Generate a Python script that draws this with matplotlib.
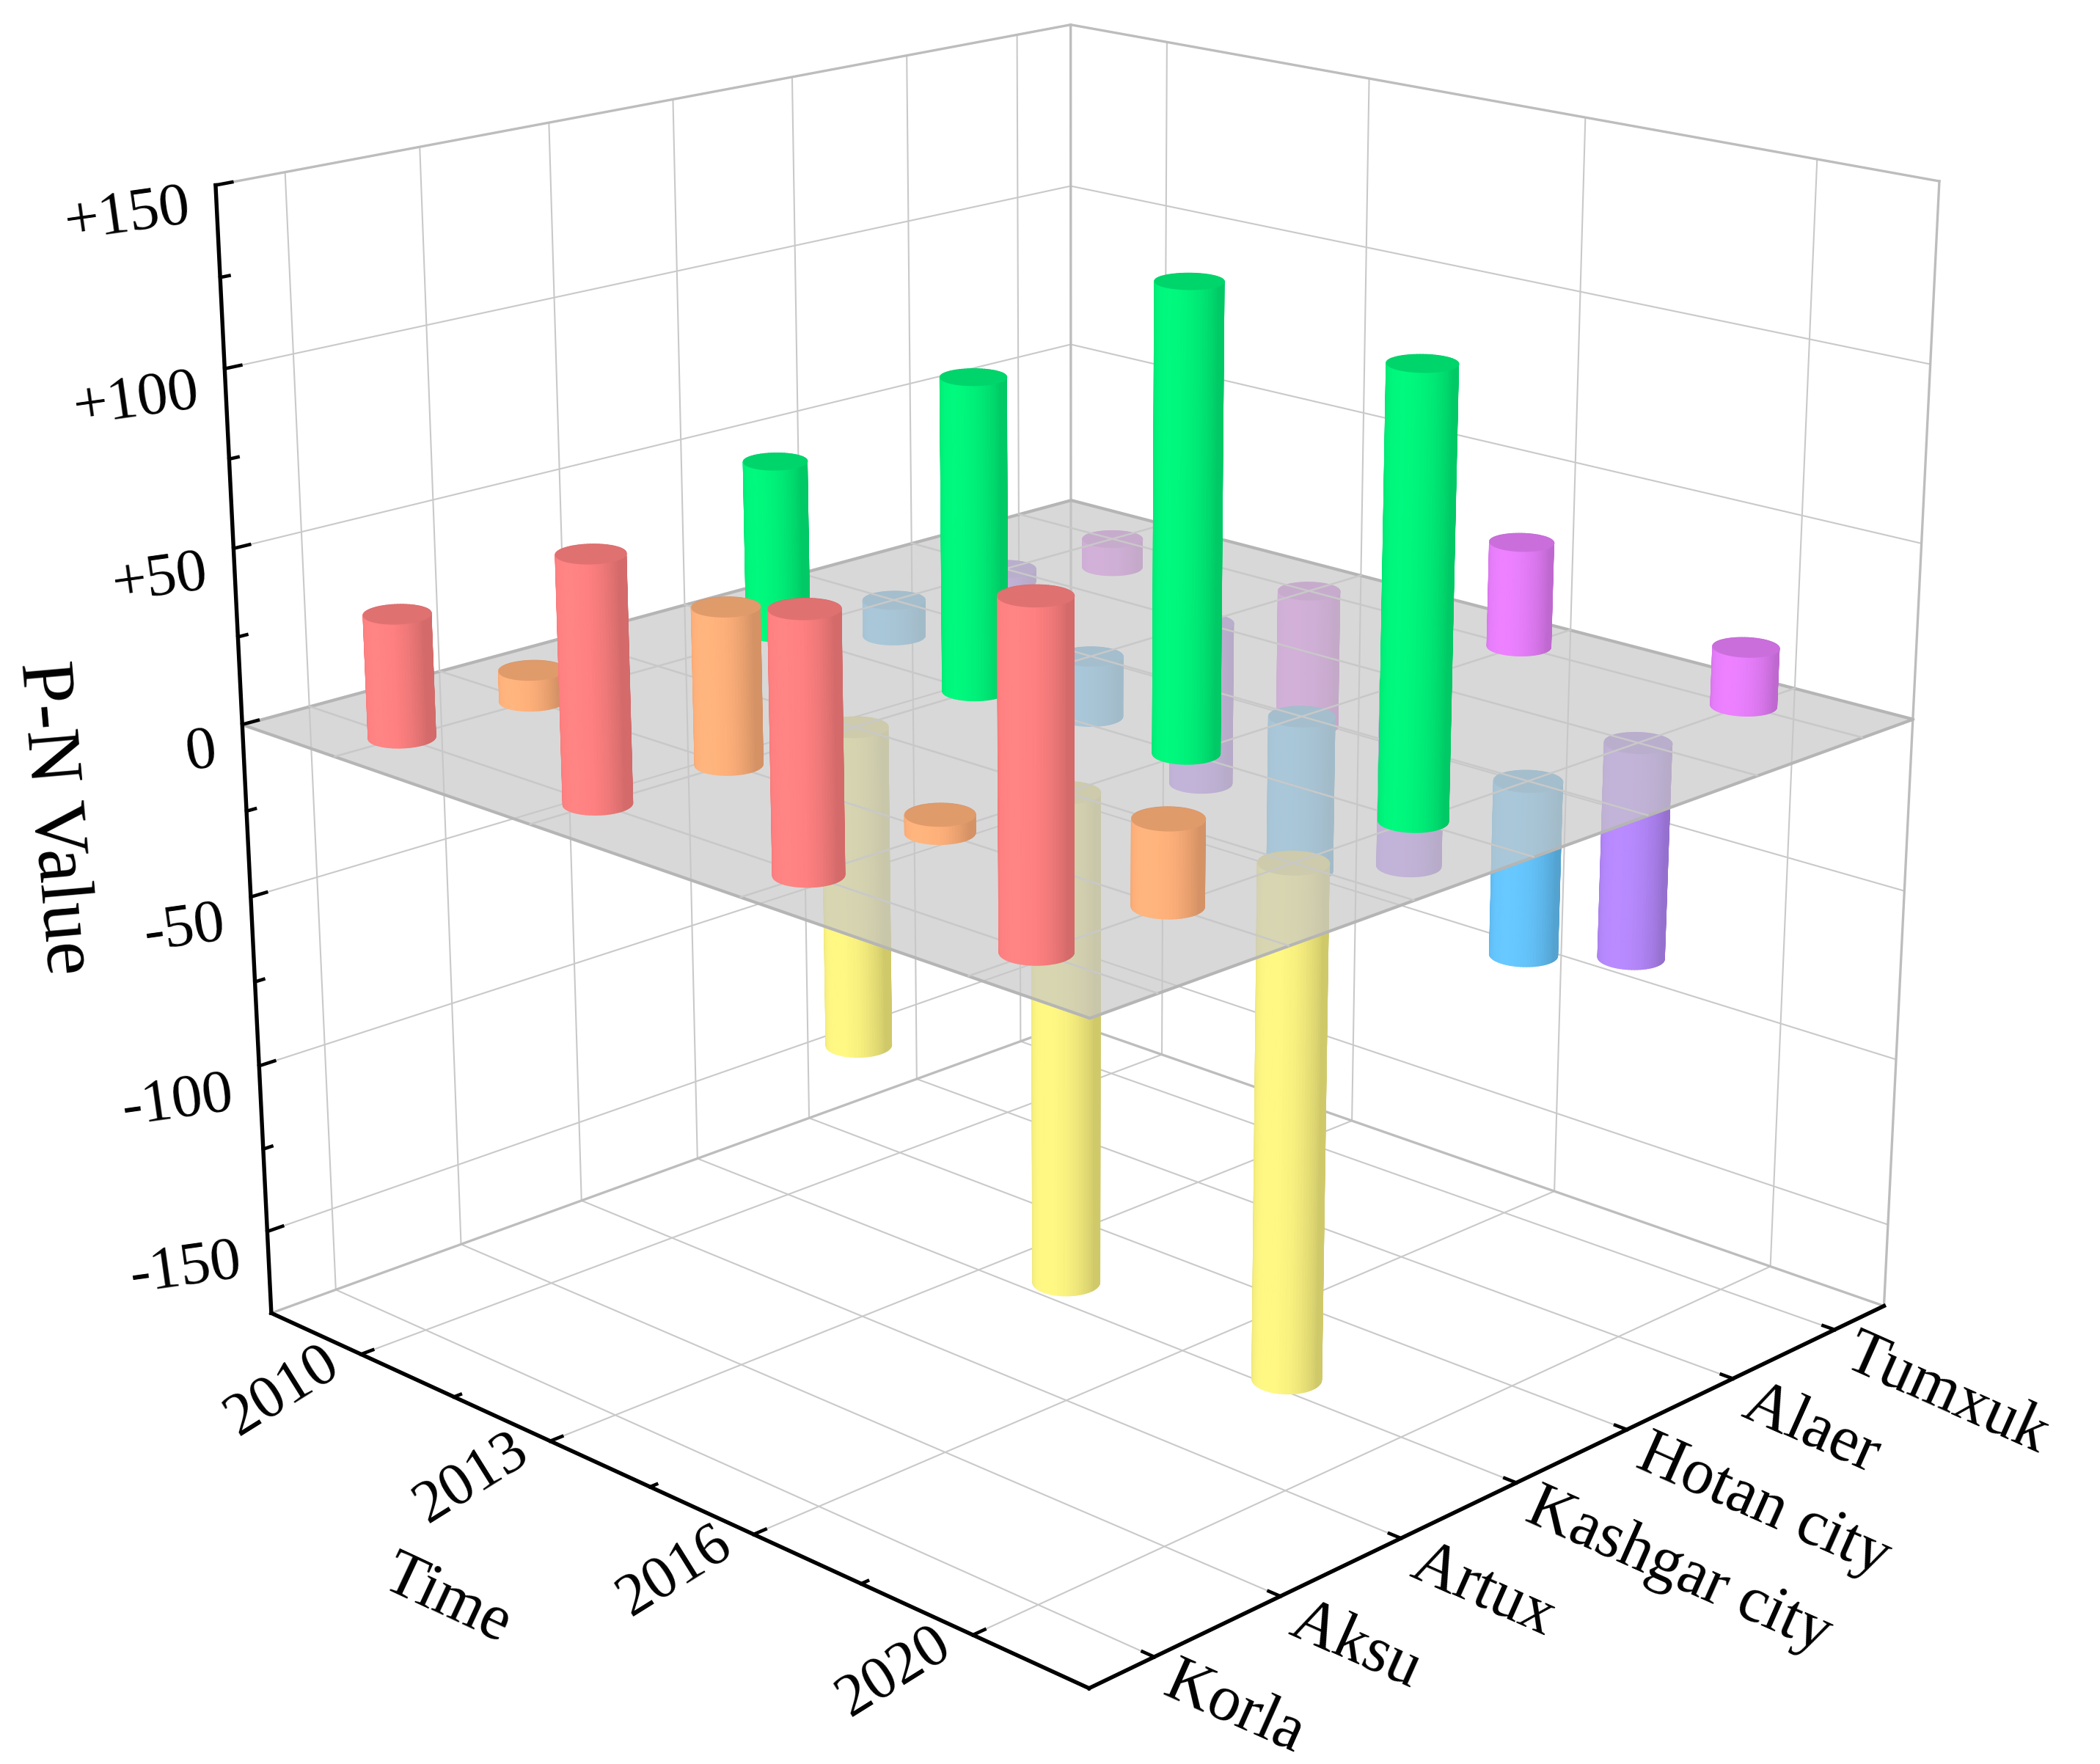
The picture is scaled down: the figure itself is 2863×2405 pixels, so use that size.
import numpy as np
import matplotlib
matplotlib.use("Agg")
import matplotlib.pyplot as plt
from matplotlib.colors import to_rgb
from mpl_toolkits.mplot3d.art3d import Poly3DCollection

plt.rcParams['font.family'] = ['Liberation Serif', 'DejaVu Serif']

# ---------------- data ----------------
years = ["2010", "2013", "2016", "2020"]
cities = ["Korla", "Aksu", "Artux", "Kashgar city", "Hotan city", "Alaer", "Tumxuk"]
korla = [35, 68, 70, 90]
aksu = [9, 44, 5, 23]
artux = [0, -93, -140, -143]
kashgar = [51, 90, 130, 122]
hotan = [-11, -18, -45, -49]
alaer = [-4, -49, -55, -62]
tumxuk = [-9, -42, 31, 17]
city_colors = ["#FF8080", "#FFB07A", "#FAF280", "#00F27A", "#64C3FA", "#B487FA", "#E67DFA"]
z_ticks = [-150, -100, -50, 0, 50, 100, 150]
z_ticklabels = ["-150", "-100", "-50", "0", "+50", "+100", "+150"]
z_minor = [-125, -75, -25, 25, 75, 125]
z_min, z_max = -175, 150

values = np.array([korla, aksu, artux, kashgar, hotan, alaer, tumxuk], dtype=float)

# ---------------- figure ----------------
W, H, DPI = 2863, 2405, 300
fig = plt.figure(figsize=(W / DPI, H / DPI), dpi=DPI)
fig.patch.set_facecolor('white')
ax = fig.add_axes([0, 0, 1, 1], projection='3d', computed_zorder=False)
ax.set_axis_off()

nt, nc = len(years), len(cities)
X0, X1 = -0.5, nt - 0.5
Y0, Y1 = -0.5, nc - 0.5


def set_limits():
    ax.set_xlim(X0, X1)
    ax.set_ylim(Y0, Y1)
    ax.set_zlim(z_min, z_max)


set_limits()

# layout anchors: box corners -> where they sit in the reference image (px)
ref3d = np.array([[X0, Y0, z_max], [X0, Y1, z_max], [X1, Y1, z_max],
                  [X0, Y0, z_min], [X1, Y0, z_min], [X1, Y1, z_min],
                  [X0, Y0, 0], [X1, Y0, 0], [X1, Y1, 0], [X0, Y1, 0]])
ref2d = np.array([[292, 261], [1461, 33], [2639, 237],
                  [374, 1799], [1479, 2301], [2575, 1771],
                  [333, 994], [1479, 1391], [2611, 971], [1461, 685]], float)


def project(pts):
    pts = np.atleast_2d(pts)
    M = ax.get_proj()
    vec = np.vstack([pts.T, np.ones(len(pts))])
    w = M @ vec
    return w[0] / w[3], w[1] / w[3]


def set_view(p):
    ax.view_init(elev=p[0], azim=p[1])
    ax.set_proj_type('persp', focal_length=p[2])
    ax.set_box_aspect((1, 1, p[3]))


def fit_err(p):
    set_view(p)
    px, py = project(ref3d)
    n = len(px)
    A = np.zeros((2 * n, 3))
    b = np.concatenate([ref2d[:, 0], ref2d[:, 1]])
    A[:n, 0] = px
    A[:n, 1] = 1
    A[n:, 0] = -py
    A[n:, 2] = 1
    sol = np.linalg.lstsq(A, b, rcond=None)[0]
    r = A @ sol - b
    return float(r @ r), sol


p = np.array([18.0, -45.0, 0.5, 1.0])
steps = np.array([2.0, 2.0, 0.1, 0.05])
best, sol = fit_err(p)
for _ in range(200):
    improved = False
    for i in range(4):
        for d in (1, -1):
            q = p.copy()
            q[i] += d * steps[i]
            if q[2] < 0.12:
                continue
            e, s_ = fit_err(q)
            if e < best:
                best, p, sol, improved = e, q, s_, True
    if not improved:
        steps /= 2
        if steps[0] < 0.02:
            break
best, sol = fit_err(p)
S, TX, TY = sol


def to_img(x, y, z):
    pts = np.column_stack([np.atleast_1d(x), np.atleast_1d(y), np.atleast_1d(z)]).astype(float)
    px, py = project(pts)
    return S * px + TX, -S * py + TY


def fpos(u, v):
    return u / W, 1 - v / H


# ---------------- gridlines / box ----------------
GRID = '#c9c9c9'
EDGE = '#bdbdbd'
kw_g = dict(color=GRID, lw=0.5, zorder=0.5, clip_on=False, solid_capstyle='butt')
for j in range(nc):
    ax.plot([X0, X0], [j, j], [z_min, z_max], **kw_g)
    ax.plot([X0, X1], [j, j], [z_min, z_min], **kw_g)
for i in range(nt):
    ax.plot([i, i], [Y1, Y1], [z_min, z_max], **kw_g)
    ax.plot([i, i], [Y0, Y1], [z_min, z_min], **kw_g)
for zt in z_ticks:
    ax.plot([X0, X0], [Y0, Y1], [zt, zt], **kw_g)
    ax.plot([X0, X1], [Y1, Y1], [zt, zt], **kw_g)
kw_e = dict(color=EDGE, lw=0.8, zorder=0.6, clip_on=False)
ax.plot([X0, X0], [Y0, Y1], [z_max, z_max], **kw_e)
ax.plot([X0, X1], [Y1, Y1], [z_max, z_max], **kw_e)
ax.plot([X0, X0], [Y1, Y1], [z_min, z_max], **kw_e)
ax.plot([X1, X1], [Y1, Y1], [z_min, z_max], **kw_e)
ax.plot([X0, X0], [Y0, Y1], [z_min, z_min], **kw_e)
ax.plot([X0, X1], [Y1, Y1], [z_min, z_min], **kw_e)

# ---------------- bars (cylinders) ----------------
azr = np.deg2rad(p[1])
e_v = np.array([np.cos(azr), np.sin(azr)])
u_v = np.array([-np.sin(azr), np.cos(azr)])
la = np.deg2rad(-35)
Lh = np.cos(la) * e_v + np.sin(la) * u_v
NSEG = 72
th = np.linspace(0, 2 * np.pi, NSEG + 1)
thm = 0.5 * (th[:-1] + th[1:])
ndl = np.cos(thm) * Lh[0] + np.sin(thm) * Lh[1]
shade = 0.83 + 0.2 * np.clip(ndl, 0, 1)
RF = 0.028
rx, ry = RF * (X1 - X0), RF * (Y1 - Y0)


def depth(xc, yc):
    return (xc - X0) / (X1 - X0) * e_v[0] + (yc - Y0) / (Y1 - Y0) * e_v[1]


def add_bar(xc, yc, v, color, zo):
    base = np.array(to_rgb(color))
    xs = xc + rx * np.cos(th)
    ys = yc + ry * np.sin(th)
    quads = [[(xs[j], ys[j], 0), (xs[j + 1], ys[j + 1], 0),
              (xs[j + 1], ys[j + 1], v), (xs[j], ys[j], v)] for j in range(NSEG)]
    cols = np.clip(base[None, :] * shade[:, None], 0, 1)
    side = Poly3DCollection(quads, facecolors=cols, edgecolors=cols,
                            linewidths=0.4, zorder=zo, clip_on=False)
    ax.add_collection3d(side)
    ztop = max(v, 0)
    capc = np.clip(base * 0.88, 0, 1)
    cap = Poly3DCollection([[(xs[j], ys[j], ztop) for j in range(NSEG)]],
                           facecolors=[capc], edgecolors=[capc],
                           linewidths=0.4, zorder=zo + 0.0005, clip_on=False)
    ax.add_collection3d(cap)


bars = []
for ci in range(nc):
    for ti in range(nt):
        v = values[ci, ti]
        if v != 0:
            bars.append((depth(ti, ci), ti, ci, v))
bars.sort(key=lambda b: b[0])
for k, (dp, ti, ci, v) in enumerate(bars):
    zo = (1.0 if v < 0 else 3.0) + 0.001 * k
    add_bar(ti, ci, v, city_colors[ci], zo)

# ---------------- zero plane ----------------
plane = Poly3DCollection([[(X0, Y0, 0), (X1, Y0, 0), (X1, Y1, 0), (X0, Y1, 0)]],
                         facecolors=[(0.78, 0.78, 0.78, 0.69)], edgecolors=['#b5b5b5'],
                         linewidths=1.0, zorder=2.0, clip_on=False)
ax.add_collection3d(plane)
kw_p = dict(color='#c8c8c8', lw=0.6, zorder=2.1, clip_on=False)
for i in range(nt):
    ax.plot([i, i], [Y0, Y1], [0, 0], **kw_p)
for j in range(nc):
    ax.plot([X0, X1], [j, j], [0, 0], **kw_p)

# ---------------- axes lines & ticks ----------------
kw_a = dict(color='black', lw=1.3, zorder=6, clip_on=False, solid_capstyle='projecting')
ax.plot([X0, X0], [Y0, Y0], [z_min, z_max], **kw_a)
ax.plot([X0, X1], [Y0, Y0], [z_min, z_min], **kw_a)
ax.plot([X1, X1], [Y0, Y1], [z_min, z_min], **kw_a)
kw_t = dict(color='black', lw=1.1, zorder=6, clip_on=False)
for zt in z_ticks:
    ax.plot([X0, X0], [Y0, Y0 + 0.117], [zt, zt], **kw_t)
for zt in z_minor:
    ax.plot([X0, X0], [Y0, Y0 + 0.065], [zt, zt], **kw_t)
for i in range(nt):
    ax.plot([i, i], [Y0, Y0 + 0.09], [z_min, z_min], **kw_t)
for i in range(nt - 1):
    ax.plot([i + 0.5, i + 0.5], [Y0, Y0 + 0.05], [z_min, z_min], **kw_t)
for j in range(nc):
    ax.plot([X1, X1 - 0.05], [j, j], [z_min, z_min], **kw_t)

set_limits()

# ---------------- place the axes so the box lands where the reference has it --------
ax.apply_aspect()
pos = ax.get_position()
d0 = ax.transData.transform((0.0, 0.0))
d1 = ax.transData.transform((1.0, 1.0))
L = pos.width * W
kx = (d1[0] - d0[0]) / L
cx = (d0[0] - pos.x0 * W) / L
cy = (d0[1] - pos.y0 * H) / L
Lnew = S / kx
left = TX - cx * Lnew
bottom = (H - TY) - cy * Lnew
ax.set_position([left / W, bottom / H, Lnew / W, Lnew / H])

# ---------------- text ----------------
for zt, lab in zip(z_ticks, z_ticklabels):
    u, v = to_img(X0, Y0, zt)
    dy = 30 + 12 * (z_max - zt) / (z_max - z_min)
    fig.text(*fpos(u[0] - 35, v[0] + dy), lab, fontsize=20, ha='right', va='center',
             rotation=8, rotation_mode='anchor')
for i, lab in enumerate(years):
    u, v = to_img(i, Y0, z_min)
    fig.text(*fpos(u[0] - 107, v[0] + 51), lab, fontsize=20, ha='center', va='center',
             rotation=32, rotation_mode='anchor')
for j, lab in enumerate(cities):
    u, v = to_img(X1, j, z_min)
    fig.text(*fpos(u[0] + 18, v[0] + 30), lab, fontsize=21, ha='left', va='center',
             rotation=-24, rotation_mode='anchor')
u, v = to_img((X0 + X1) / 2, Y0, z_min)
fig.text(*fpos(u[0] - 277, v[0] + 155), "Time", fontsize=21, ha='center', va='center',
         rotation=-25, rotation_mode='anchor')
u, v = to_img(X0, Y0, (z_min + z_max) / 2)
fig.text(*fpos(u[0] - 261, v[0] + 68), "P-N Value", fontsize=25, ha='center', va='center',
         rotation=-85, rotation_mode='anchor')

fig.savefig("out.png", dpi=DPI, facecolor='white')
